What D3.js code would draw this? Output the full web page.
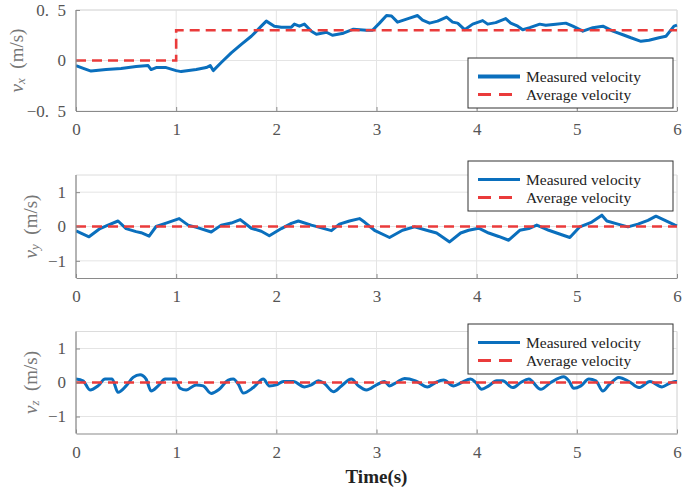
<!DOCTYPE html>
<html>
<head>
<meta charset="utf-8">
<script src="https://cdn.jsdelivr.net/npm/d3@7"></script>
<style>
  html, body { margin: 0; padding: 0; background: #fff; }
  svg { display: block; }
  svg text { font-family: "Liberation Serif", "Times New Roman", "DejaVu Serif", serif; }
</style>
</head>
<body>
<svg id="chart" width="685" height="489"></svg>
<script>
// ---------- data ----------
const xTicks = [0, 1, 2, 3, 4, 5, 6];
const legendLabels = ["Measured velocity", "Average velocity"];

const tX = [0,0.08,0.15,0.3,0.45,0.6,0.72,0.75,0.8,0.9,1.0,1.05,1.2,1.3,1.34,1.37,1.45,1.55,1.65,1.75,1.85,1.9,1.98,2.05,2.15,2.18,2.23,2.28,2.35,2.4,2.5,2.56,2.67,2.77,2.9,2.96,3.03,3.1,3.15,3.21,3.33,3.41,3.46,3.53,3.61,3.7,3.76,3.81,3.88,3.96,4.06,4.11,4.19,4.29,4.34,4.41,4.46,4.53,4.63,4.69,4.79,4.89,4.96,5.06,5.16,5.26,5.36,5.46,5.54,5.64,5.72,5.82,5.89,5.97,6.0];
const vX = [-0.05,-0.08,-0.105,-0.09,-0.08,-0.06,-0.05,-0.09,-0.07,-0.07,-0.1,-0.11,-0.09,-0.07,-0.05,-0.1,-0.02,0.075,0.16,0.24,0.34,0.39,0.34,0.33,0.33,0.36,0.34,0.36,0.29,0.26,0.28,0.25,0.27,0.31,0.30,0.30,0.37,0.445,0.44,0.38,0.42,0.445,0.40,0.37,0.39,0.43,0.38,0.37,0.305,0.36,0.395,0.36,0.375,0.415,0.37,0.34,0.305,0.325,0.36,0.35,0.36,0.37,0.34,0.29,0.325,0.34,0.29,0.255,0.225,0.19,0.20,0.225,0.24,0.34,0.35];
const tXavg = [0, 1, 1, 6];
const vXavg = [0, 0, 0.3, 0.3];

const tY = [0,0.13,0.24,0.32,0.42,0.5,0.6,0.65,0.73,0.8,0.9,1.03,1.12,1.22,1.35,1.45,1.55,1.64,1.75,1.85,1.93,2.05,2.15,2.22,2.35,2.45,2.55,2.63,2.73,2.83,2.88,2.98,3.13,3.26,3.38,3.5,3.6,3.73,3.84,3.92,4.02,4.12,4.22,4.32,4.43,4.52,4.6,4.72,4.82,4.93,5.03,5.15,5.25,5.3,5.41,5.51,5.61,5.71,5.79,5.88,5.98,6.0];
const vY = [-0.13,-0.30,-0.06,0.04,0.16,-0.06,-0.15,-0.18,-0.28,0.0,0.1,0.23,0.04,-0.04,-0.16,0.04,0.1,0.2,-0.05,-0.14,-0.27,-0.06,0.09,0.16,0.04,-0.04,-0.12,0.07,0.16,0.23,0.13,-0.11,-0.32,-0.11,-0.01,-0.11,-0.19,-0.45,-0.19,-0.11,-0.05,-0.19,-0.29,-0.40,-0.11,-0.06,0.04,-0.11,-0.21,-0.32,-0.01,0.13,0.33,0.16,0.07,-0.01,0.07,0.18,0.3,0.18,0.04,0.02];
const tYavg = [0, 6];
const vYavg = [0, 0];

const tZ = [0,0.07,0.14,0.22,0.29,0.36,0.42,0.5,0.57,0.64,0.7,0.75,0.82,0.89,0.99,1.04,1.1,1.2,1.27,1.35,1.43,1.52,1.57,1.62,1.67,1.77,1.87,1.93,2.0,2.07,2.17,2.28,2.35,2.42,2.48,2.57,2.65,2.75,2.82,2.9,3.0,3.08,3.13,3.2,3.28,3.39,3.51,3.59,3.67,3.77,3.85,3.94,3.99,4.05,4.12,4.2,4.26,4.36,4.44,4.52,4.64,4.74,4.87,4.92,4.97,5.04,5.12,5.19,5.26,5.32,5.42,5.52,5.62,5.73,5.85,5.92,5.98,6.0];
const vZ = [0.1,0.05,-0.22,-0.1,0.1,0.1,-0.29,-0.1,0.15,0.23,0.1,-0.25,-0.1,0.1,0.1,-0.17,-0.22,-0.07,-0.1,-0.32,-0.2,0.07,0.1,-0.05,-0.31,-0.15,0.1,-0.1,-0.07,0.03,0.03,-0.13,-0.07,0.05,-0.03,-0.27,-0.1,0.1,-0.1,-0.22,-0.07,0.03,-0.1,0,0.12,0.05,-0.13,0,0.07,-0.1,0,0.1,0,-0.2,-0.1,0.05,0.05,-0.15,0,0.1,-0.2,0,0.17,0.05,-0.17,-0.1,0.1,0.05,-0.25,-0.07,0.15,0.03,-0.15,0.03,-0.13,-0.03,0.03,0.03];
const tZavg = [0, 6];
const vZavg = [0, 0];

const yTicksX = [-0.5, 0, 0.5];
const yTickLabelsX = ["\u22120.\u20025", "0", "0.\u20025"];
const yTicksYZ = [-1, 0, 1];
const yTickLabelsYZ = ["\u22121", "0", "1"];

// ---------- layout ----------
const svg = d3.select("#chart");
const X0 = 76, X1 = 677;
const x = d3.scaleLinear().domain([0, 6]).range([X0, X1]);

const BLUE = "#0a6fbd", RED = "#ea3b3b";

const panels = [
  { sub: "x", top: 10, bottom: 111, dom: [-0.5, 0.5], yt: yTicksX, ytl: yTickLabelsX,
    meas: d3.zip(tX, vX), avg: d3.zip(tXavg, vXavg), curve: d3.curveLinear,
    labelX: 16, legTop: 58, measW: 3.8 },
  { sub: "y", top: 175, bottom: 278, dom: [-1.5, 1.5], yt: yTicksYZ, ytl: yTickLabelsYZ,
    meas: d3.zip(tY, vY), avg: d3.zip(tYavg, vYavg), curve: d3.curveLinear,
    labelX: 30, legTop: 161, measW: 3 },
  { sub: "z", top: 331.5, bottom: 433.5, dom: [-1.5, 1.5], yt: yTicksYZ, ytl: yTickLabelsYZ,
    meas: d3.zip(tZ, vZ), avg: d3.zip(tZavg, vZavg), curve: d3.curveMonotoneX,
    labelX: 30, legTop: 324, measW: 3 }
];

panels.forEach(p => {
  const y = d3.scaleLinear().domain(p.dom).range([p.bottom, p.top]);
  const g = svg.append("g");

  // grid
  g.selectAll(".vg").data(xTicks).join("line")
    .attr("x1", d => x(d)).attr("x2", d => x(d))
    .attr("y1", p.top).attr("y2", p.bottom)
    .attr("stroke", "#e4e4e4").attr("stroke-width", 1);
  g.selectAll(".hg").data(p.yt).join("line")
    .attr("x1", X0).attr("x2", X1)
    .attr("y1", d => y(d)).attr("y2", d => y(d))
    .attr("stroke", "#e4e4e4").attr("stroke-width", 1);
  g.append("line").attr("x1", X0).attr("x2", X1).attr("y1", p.top).attr("y2", p.top)
    .attr("stroke", "#dcdcdc");
  g.append("line").attr("x1", X1).attr("x2", X1).attr("y1", p.top).attr("y2", p.bottom)
    .attr("stroke", "#dcdcdc");

  const cid = "clip" + p.sub;
  svg.append("clipPath").attr("id", cid).append("rect")
    .attr("x", X0).attr("y", p.top - 2).attr("width", X1 - X0 + 2).attr("height", p.bottom - p.top + 4);

  const line = d3.line().x(d => x(d[0])).y(d => y(d[1]));
  g.append("path").datum(p.meas)
    .attr("clip-path", `url(#${cid})`)
    .attr("d", line.curve(p.curve))
    .attr("fill", "none").attr("stroke", BLUE).attr("stroke-width", 3)
    .attr("stroke-linejoin", "round");
  g.append("path").datum(p.avg)
    .attr("d", d3.line().x(d => x(d[0])).y(d => y(d[1])))
    .attr("fill", "none").attr("stroke", RED).attr("stroke-width", 2.6)
    .attr("stroke-dasharray", "10,6");

  const xa = g.append("g").attr("transform", `translate(0,${p.bottom})`)
    .call(d3.axisBottom(x).tickValues(xTicks).tickSizeInner(-4).tickSizeOuter(0).tickPadding(12).tickFormat(d3.format("d")));
  const ya = g.append("g").attr("transform", `translate(${X0},0)`)
    .call(d3.axisLeft(y).tickValues(p.yt).tickSizeInner(-4).tickSizeOuter(0).tickPadding(10)
      .tickFormat((d, i) => p.ytl[i]));
  [xa, ya].forEach(a => {
    a.attr("font-family", null).attr("font-size", null);
    a.select(".domain").attr("stroke", "#8a8a8a").attr("stroke-width", 1.2);
    a.selectAll(".tick line").attr("stroke", "#8a8a8a");
    a.selectAll(".tick text").attr("fill", "#555").style("font-size", "17px");
  });
  ya.select(".domain").attr("d", `M0,${p.top}V${p.bottom}`);

  const lbl = svg.append("text")
    .attr("transform", `translate(${p.labelX},${(p.top + p.bottom) / 2}) rotate(-90)`)
    .attr("text-anchor", "middle").attr("dominant-baseline", "central")
    .attr("fill", "#777").style("font-size", "19px");
  lbl.append("tspan").attr("font-style", "italic").text("v");
  lbl.append("tspan").attr("font-style", "italic").style("font-size", "13px").attr("dy", 4).text(p.sub);
  lbl.append("tspan").attr("dy", -4).text("\u2002(m/s)");

  const lx = 468, lw = 205, lh = 50;
  const lg = svg.append("g").attr("transform", `translate(${lx},${p.legTop})`);
  lg.append("rect").attr("width", lw).attr("height", lh)
    .attr("fill", "#fff").attr("stroke", "#333").attr("stroke-width", 1);
  const rows = [
    { label: legendLabels[0], color: BLUE, dash: null, w: p.measW, yy: 18.5 },
    { label: legendLabels[1], color: RED, dash: "13,8", w: 3, yy: 36.5 }
  ];
  rows.forEach(r => {
    lg.append("line").attr("x1", 10).attr("x2", 52).attr("y1", r.yy).attr("y2", r.yy)
      .attr("stroke", r.color).attr("stroke-width", r.w)
      .attr("stroke-dasharray", r.dash);
    lg.append("text").attr("x", 58).attr("y", r.yy).attr("dy", "0.33em")
      .attr("fill", "#222").style("font-size", "15.5px")
      .text(r.label);
  });
});

svg.append("text").attr("x", (X0 + X1) / 2).attr("y", 476).attr("dy", "0.35em")
  .attr("text-anchor", "middle").attr("fill", "#222")
  .style("font-size", "19px").attr("font-weight", "bold").text("Time(s)");
</script>
</body>
</html>
